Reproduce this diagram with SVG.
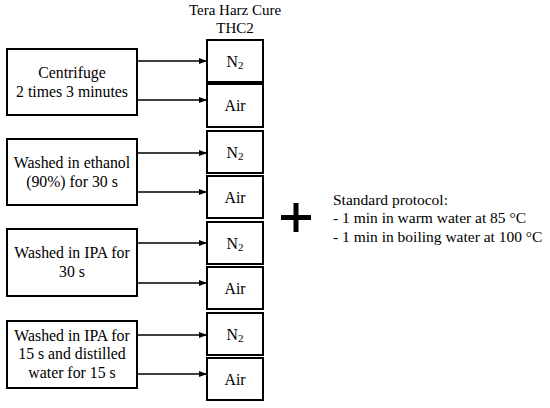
<svg xmlns="http://www.w3.org/2000/svg" width="550" height="408" viewBox="0 0 550 408">
<defs>
<marker id="ah" markerWidth="8" markerHeight="6" refX="7" refY="3" orient="auto" markerUnits="userSpaceOnUse">
<path d="M0,0 L8,3 L0,6 Z" fill="#000"/>
</marker>
<style>
.box{fill:#fff;stroke:#000;stroke-width:2}
.t{font-family:"Liberation Serif","DejaVu Serif",serif;font-size:15.8px;fill:#000;text-anchor:middle}
.h{font-family:"Liberation Serif","DejaVu Serif",serif;font-size:15px;fill:#000;text-anchor:middle}
.p{font-family:"Liberation Serif","DejaVu Serif",serif;font-size:15.5px;fill:#000}
.c{stroke:#000;stroke-width:1.3;fill:none;marker-end:url(#ah)}
</style>
</defs>
<rect width="550" height="408" fill="#fff"/>
<g id="title">
<text class="h" x="235" y="15">Tera Harz Cure</text>
<text class="h" x="235" y="33">THC2</text>
</g>
<g id="step1"><rect class="box" x="7" y="49" width="130" height="66"/>
<text class="t" x="72" y="78">Centrifuge</text><text class="t" x="72" y="97">2 times 3 minutes</text></g>
<g id="step2"><rect class="box" x="7" y="139" width="130" height="66"/>
<text class="t" x="72" y="168">Washed in ethanol</text><text class="t" x="72" y="187">(90%) for 30 s</text></g>
<g id="step3"><rect class="box" x="7" y="229" width="130" height="67"/>
<text class="t" x="72" y="258">Washed in IPA for</text><text class="t" x="72" y="277">30 s</text></g>
<g id="step4"><rect class="box" x="7" y="321" width="130" height="67"/>
<text class="t" x="72" y="341">Washed in IPA for</text><text class="t" x="72" y="359">15 s and distilled</text><text class="t" x="72" y="378">water for 15 s</text></g>
<g id="n2a"><rect class="box" x="207" y="40" width="56" height="42"/><text class="t" x="235" y="67">N<tspan font-size="11" dy="2">2</tspan></text></g>
<g id="aira"><rect class="box" x="207" y="84" width="56" height="43"/><text class="t" x="235" y="111">Air</text></g>
<g id="n2b"><rect class="box" x="207" y="131" width="56" height="42"/><text class="t" x="235" y="158">N<tspan font-size="11" dy="2">2</tspan></text></g>
<g id="airb"><rect class="box" x="207" y="176" width="56" height="42"/><text class="t" x="235" y="203">Air</text></g>
<g id="n2c"><rect class="box" x="207" y="222" width="56" height="42"/><text class="t" x="235" y="249">N<tspan font-size="11" dy="2">2</tspan></text></g>
<g id="airc"><rect class="box" x="207" y="267" width="56" height="42"/><text class="t" x="235" y="294">Air</text></g>
<g id="n2d"><rect class="box" x="207" y="313" width="56" height="42"/><text class="t" x="235" y="340">N<tspan font-size="11" dy="2">2</tspan></text></g>
<g id="aird"><rect class="box" x="207" y="358" width="56" height="42"/><text class="t" x="235" y="385">Air</text></g>
<g id="connectors">
<line class="c" x1="137" y1="61" x2="206" y2="61"/>
<line class="c" x1="137" y1="100" x2="206" y2="100"/>
<line class="c" x1="137" y1="153" x2="206" y2="153"/>
<line class="c" x1="137" y1="192" x2="206" y2="192"/>
<line class="c" x1="137" y1="243" x2="206" y2="243"/>
<line class="c" x1="137" y1="283" x2="206" y2="283"/>
<line class="c" x1="137" y1="335" x2="206" y2="335"/>
<line class="c" x1="137" y1="374" x2="206" y2="374"/>
</g>
<g id="plus">
<rect x="281" y="215" width="30" height="5" fill="#000"/>
<rect x="293.5" y="203" width="5" height="29" fill="#000"/>
</g>
<g id="protocol">
<text class="p" x="333" y="205">Standard protocol:</text>
<text class="p" x="333" y="223">- 1 min in warm water at 85 °C</text>
<text class="p" x="333" y="242">- 1 min in boiling water at 100 °C</text>
</g>
</svg>
